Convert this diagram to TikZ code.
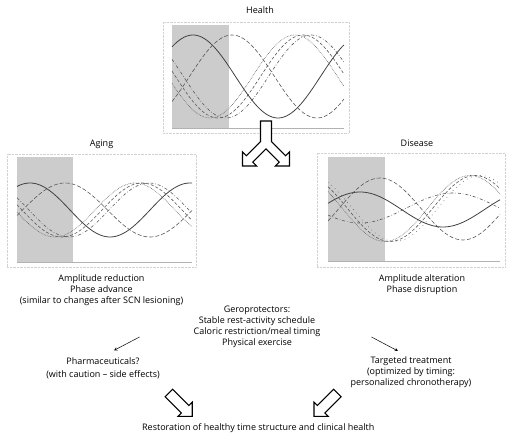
\documentclass[tikz,border=0pt]{standalone}
\usepackage{fontspec}
\setmainfont{Open Sans}
\usetikzlibrary{shapes.arrows, arrows, positioning}

\tikzstyle{panel} = [rectangle, draw=gray!35, densely dotted, inner sep=0pt]
\tikzstyle{txt} = [align=center, inner sep=1pt, font=\fontsize{9}{11}\selectfont]
\tikzstyle{restzone} = [fill=gray!40]
\tikzstyle{axisline} = [draw=gray!60, line width=0.6pt]
\tikzstyle{rhythm} = [draw=black!65, line width=0.6pt]
\tikzstyle{arrow} = [->, >=stealth, line width=0.5pt]
\tikzstyle{blockarrow} = [single arrow, draw=black, line width=1.1pt, fill=white, inner xsep=0pt, inner ysep=4.75pt, minimum height=33pt, single arrow head extend=4.75pt]

% one rhythm: style, from, to, mean, amplitude, acrophase, period
\newcommand{\rhythmcurve}[7]{%
  \draw[rhythm, #1, domain=#2:#3, samples=70, smooth, variable=\t]
    plot (\t, {#4+#5*cos((\t-#6)/#7*360)});}

\begin{document}
\begin{tikzpicture}[x=1pt, y=1pt]
    \useasboundingbox (0,0) rectangle (520,441);

    \node (health) [panel, minimum width=186pt, minimum height=111pt] at (256,363.5) {};
    \node (aging) [panel, minimum width=189pt, minimum height=113pt] at (101.5,230.5) {};
    \node (disease) [panel, minimum width=188pt, minimum height=114pt] at (411,231) {};

    \node (healthtitle) [txt, above=7pt of health, xshift=4pt] {Health};
    \node (agingtitle) [txt, above=4.3pt of aging] {Aging};
    \node (diseasetitle) [txt, above=5.5pt of disease, xshift=6pt] {Disease};

    % health
    \fill [restzone] (172,313) rectangle (229,416);
    \draw [axisline] (172,313) -- (344,313);
    \rhythmcurve{line width=0.8pt, draw=black!75}{172}{344}{364.5}{41.5}{193}{170}
    \rhythmcurve{dash pattern=on 4pt off 2pt}{172}{344}{364.5}{41.5}{232}{170}
    \rhythmcurve{densely dotted}{172}{344}{364.5}{41.5}{295}{170}
    \rhythmcurve{densely dashed}{172}{344}{364.5}{41.5}{303}{170}
    \rhythmcurve{dash dot}{172}{344}{364.5}{41.5}{311}{170}

    % aging
    \fill [restzone] (17,179) rectangle (73,284);
    \draw [axisline] (17,179) -- (192,179);
    \rhythmcurve{line width=0.8pt, draw=black!75}{17}{192}{231}{27}{30}{160}
    \rhythmcurve{dash pattern=on 4pt off 2pt}{17}{192}{231}{27}{65}{170}
    \rhythmcurve{densely dotted}{17}{192}{231}{27}{135}{160}
    \rhythmcurve{densely dashed}{17}{192}{231}{27}{142}{160}
    \rhythmcurve{dash dot}{17}{192}{231}{27}{149}{160}

    % disease
    \fill [restzone] (328,180) rectangle (385,284);
    \draw [axisline] (328,180) -- (500,180);
    \rhythmcurve{line width=0.8pt, draw=black!75}{328}{500}{231.5}{17.5}{360}{166}
    \rhythmcurve{dash pattern=on 4pt off 2pt}{328}{500}{232}{31}{380}{166}
    \rhythmcurve{dash dot}{328}{500}{233}{15}{453}{186}
    \rhythmcurve{densely dotted}{328}{500}{232.5}{33}{470}{170}
    \rhythmcurve{densely dashed}{328}{500}{232.5}{33}{475}{170}
    \rhythmcurve{loosely dotted}{328}{500}{232.5}{33}{480}{170}

    % split arrow health -> aging, disease
    \draw [line width=1.1pt, fill=white, line join=miter]
        (260.5,320) -- (271.5,320) -- (271.5,299.36) -- (285.61,285.25)
        -- (289.5,289.14) -- (289.5,275) -- (275.36,275) -- (279.25,278.89)
        -- (266,292.14) -- (252.75,278.89) -- (256.64,275) -- (242.5,275)
        -- (242.5,289.14) -- (246.39,285.25) -- (260.5,299.36) -- cycle;

    \node (agingtext) [txt, below=6.7pt of aging] {Amplitude reduction\\Phase advance\\(similar to changes after SCN lesioning)};
    \node (diseasetext) [txt, below=6.7pt of disease, xshift=11pt] {Amplitude alteration\\Phase disruption};

    \node (gero) [txt] at (257,114) {Geroprotectors:\\Stable rest-activity schedule\\Caloric restriction/meal timing\\Physical exercise};
    \node (pharma) [txt] at (103,72.8) {Pharmaceuticals?\\[2pt](with caution -- side effects)};
    \node (targeted) [txt] at (411,69.3) {Targeted treatment\\(optimized by timing:\\personalized chronotherapy)};
    \node (restoration) [txt] at (258.3,12.8) {Restoration of healthy time structure and clinical health};

    \draw [arrow] ([xshift=-53pt,yshift=-10pt]gero.west) -- ([xshift=11pt,yshift=6pt]pharma.north);
    \draw [arrow] ([xshift=50pt,yshift=-10pt]gero.east) -- ([xshift=-13pt,yshift=4pt]targeted.north);

    \node (pharmaarrow) [blockarrow, rotate=-45] at (178.7,38.2) {};
    \node (targetarrow) [blockarrow, rotate=-135] at (327.5,38.2) {};

\end{tikzpicture}
\end{document}
